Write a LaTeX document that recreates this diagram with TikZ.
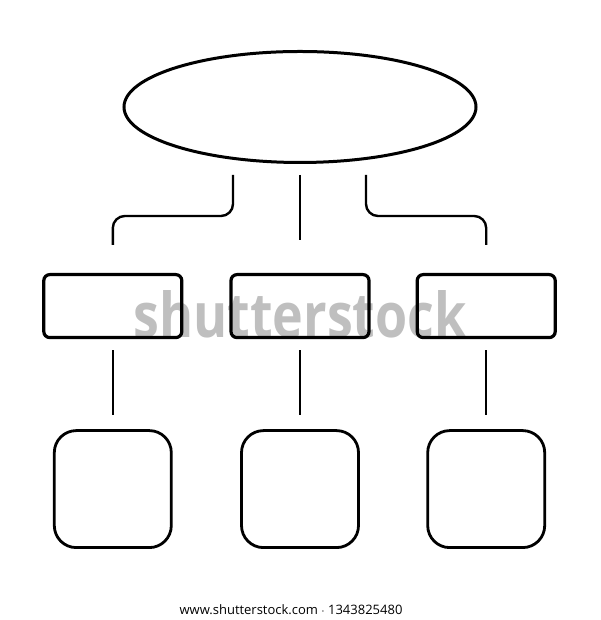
\documentclass[tikz,border=0pt]{standalone}
\usepackage{fontspec}
\setsansfont{Open Sans}
\usetikzlibrary{positioning,shapes.geometric}

\begin{document}
\begin{tikzpicture}[x=1pt, y=1pt,
    topbox/.style={draw, ellipse, line width=3pt, minimum width=352pt, minimum height=111pt},
    midbox/.style={draw, rectangle, rounded corners=6pt, line width=3.2pt, minimum width=138pt, minimum height=63pt},
    lowbox/.style={draw, rectangle, rounded corners=22pt, line width=2.8pt, minimum width=117pt, minimum height=117pt},
    link/.style={line width=2.4pt, rounded corners=12pt},
    tick/.style={line width=2.4pt, shorten <=11pt, shorten >=14pt}]
    \useasboundingbox (0,0) rectangle (600,620);

    % Watermark and caption
    \node [text=black!25, inner sep=0pt] (mark) at (300,306) {\resizebox{333pt}{47pt}{\sffamily\bfseries shutterstock}};
    \node [inner sep=0pt] (caption) at (291,10) {\fontsize{13}{13}\sffamily www.shutterstock.com $\cdot$ 1343825480};

    % Nodes {top, b1, b2, b3, s1, s2, s3}
    \node [topbox]                          (top)   at (300,513) {};
    \node [midbox]                          (b2)    [below=109pt of top] {};
    \node [midbox]                          (b1)    [left=46pt of b2]    {};
    \node [midbox]                          (b3)    [right=45pt of b2]   {};
    \node [lowbox]                          (s1)    [below=90pt of b1]   {};
    \node [lowbox]                          (s2)    [below=90pt of b2]   {};
    \node [lowbox]                          (s3)    [below=90pt of b3]   {};

    % Paths
    \draw [link]    ([shift={(-67,-11)}]top.south) -- ++(0,-41) -| ([yshift=28pt]b1.north);
    \draw [link]    ([yshift=-11pt]top.south) -- ([yshift=33pt]b2.north);
    \draw [link]    ([shift={(66,-11)}]top.south) -- ++(0,-41) -| ([yshift=28pt]b3.north);
    \draw [tick]    (b1) -- (s1);
    \draw [tick]    (b2) -- (s2);
    \draw [tick]    (b3) -- (s3);

\end{tikzpicture}
\end{document}
